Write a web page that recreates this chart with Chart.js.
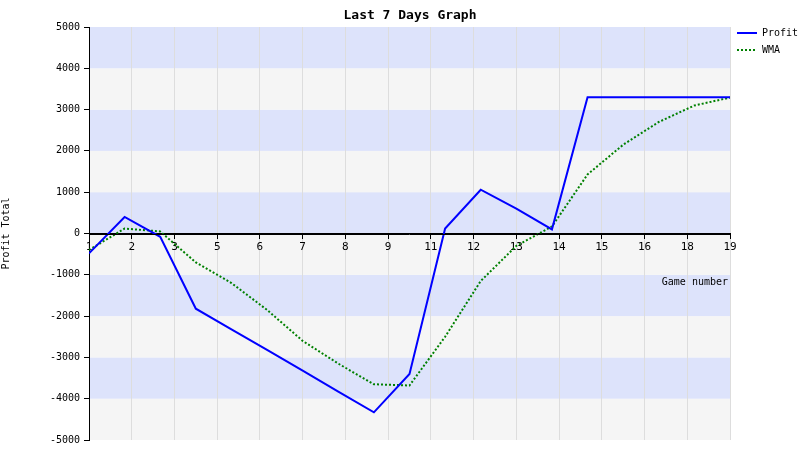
<!DOCTYPE html>
<html><head><meta charset="utf-8">
<script src="https://cdn.jsdelivr.net/npm/chart.js@4"></script>
<style>body{margin:0;background:#fff}#w{width:809px;height:450px}</style>
</head><body><div id="w"><canvas id="c"></canvas></div>
<script>
const tickLabels = ['1','2','3','5','6','7','8','9','11','12','13','14','15','16','18','19'];
const games = [0,1,2,3,4,5,6,7,8,9,10,11,12,13,14,15,16,17,18];
const profit = [-480,400,-80,-1820,-2320,-2820,-3320,-3830,-4330,-3400,120,1060,600,100,3300,3300,3300,3300,3300];
const wma = [-400,120,50,-700,-1200,-1850,-2600,-3150,-3650,-3680,-2500,-1150,-300,170,1430,2150,2700,3100,3290];
const FONT = 'DejaVu Sans Mono';
const deco = {
  id:'deco',
  beforeDraw(ch){
    const {ctx, chartArea:a, scales:{y}} = ch;
    ctx.save();
    for(let v=-5000; v<5000; v+=1000){
      const t=y.getPixelForValue(v+1000), b=y.getPixelForValue(v);
      ctx.fillStyle = (((v+5000)/1000)%2===1) ? '#dde3fb' : '#f5f5f5';
      ctx.fillRect(a.left,t,a.right-a.left,b-t);
    }
    ctx.restore();
  },
  afterDraw(ch){
    const {ctx, chartArea:a, scales:{y}} = ch;
    ctx.save();
    ctx.strokeStyle='#000'; ctx.lineWidth=1;
    const y0=Math.round(y.getPixelForValue(0))+0.5;
    ctx.beginPath(); ctx.moveTo(a.left,y0); ctx.lineTo(a.right,y0); ctx.stroke();
    ctx.fillStyle='#000';
    ctx.font='bold 13px '+FONT; ctx.textAlign='center'; ctx.textBaseline='middle';
    ctx.fillText('Last 7 Days Graph', 410, 16);
    ctx.font='10px '+FONT; ctx.textAlign='right';
    ctx.fillText('Game number', 728, 282);
    ctx.textAlign='left';
    const items=[['Profit','#0000ff',[]],['WMA','#008000',[2,2]]];
    items.forEach((it,i)=>{
      const yy=33+i*17;
      ctx.strokeStyle=it[1]; ctx.lineWidth=2; ctx.setLineDash(it[2]);
      ctx.beginPath(); ctx.moveTo(737,yy); ctx.lineTo(757,yy); ctx.stroke();
      ctx.fillText(it[0],762,yy);
    });
    ctx.restore();
  }
};
new Chart(document.getElementById('c'),{
  type:'line',
  data:{datasets:[
    {label:'Profit',data:games.map((g,i)=>({x:g,y:profit[i]})),xAxisID:'xd',borderColor:'#0000ff',borderWidth:2,pointRadius:0,tension:0},
    {label:'WMA',data:games.map((g,i)=>({x:g,y:wma[i]})),xAxisID:'xd',borderColor:'#008000',borderWidth:2,borderDash:[2,2],pointRadius:0,tension:0}
  ]},
  options:{
    responsive:true,maintainAspectRatio:false,animation:false,
    layout:{padding:{left:0,right:79,top:27,bottom:7}},
    plugins:{legend:{display:false},title:{display:false},tooltip:{enabled:false}},
    scales:{
      xd:{type:'linear',min:0,max:18,display:false},
      x:{type:'linear',min:0,max:tickLabels.length-1,position:{y:0},
        grid:{color:'#dddddd',drawTicks:true,tickLength:5,tickColor:'#000'},
        border:{color:'#000',width:1},
        ticks:{stepSize:1,color:'#000',font:{family:FONT,size:11},autoSkip:false,maxRotation:0,padding:2,
          callback:(v)=>tickLabels[v]}},
      y:{min:-5000,max:5000,afterFit(s){s.width=89;},
        ticks:{stepSize:1000,color:'#000',font:{family:FONT,size:10},padding:4,callback:(v)=>String(v)},
        grid:{drawOnChartArea:false,drawTicks:true,tickLength:5,tickColor:'#000'},
        border:{color:'#000',width:1},
        title:{display:true,text:'Profit Total',color:'#000',font:{family:FONT,size:10},padding:{top:0,bottom:18}}}
    }
  },
  plugins:[deco]
});
</script></body></html>
